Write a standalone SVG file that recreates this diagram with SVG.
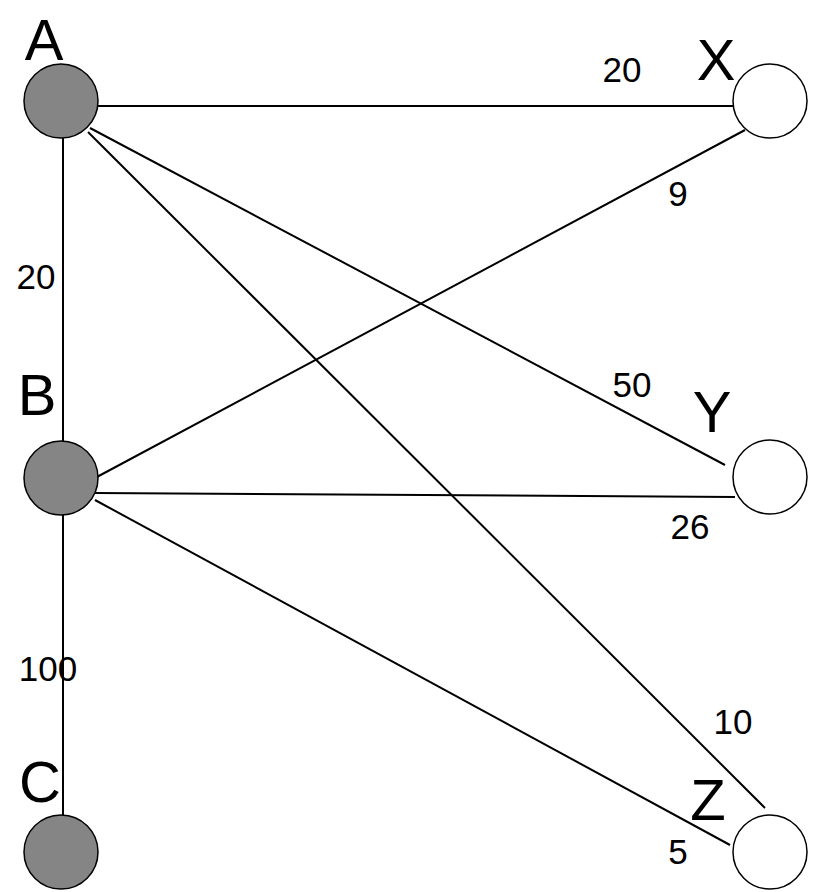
<svg xmlns="http://www.w3.org/2000/svg" width="834" height="892" viewBox="0 0 834 892">
<style>
.e{stroke:#000;stroke-width:2;fill:none}
.f{fill:#858585;stroke:#000;stroke-width:1.5}
.o{fill:#fff;stroke:#000;stroke-width:1.5}
.L{font-family:"Liberation Sans",Arial,sans-serif;font-size:58px;fill:#000;text-anchor:middle}
.n{font-family:"Liberation Sans",Arial,sans-serif;font-size:35px;fill:#000;text-anchor:middle}
</style>
<rect width="834" height="892" fill="#fff"/>
<g id="connectors">
<line class="e" x1="95" y1="106" x2="733" y2="106"/>
<line class="e" x1="63" y1="138" x2="63" y2="441"/>
<line class="e" x1="63" y1="515" x2="63" y2="818"/>
<line class="e" x1="90" y1="128" x2="725" y2="465"/>
<line class="e" x1="88" y1="132" x2="765" y2="808"/>
<line class="e" x1="95" y1="478" x2="745" y2="130"/>
<line class="e" x1="95" y1="493" x2="735" y2="497"/>
<line class="e" x1="95" y1="500" x2="730" y2="845"/>
</g>
<g id="A"><circle class="f" cx="61" cy="101" r="37"/><text class="L" x="44" y="60">A</text></g>
<g id="B"><circle class="f" cx="61" cy="478" r="37"/><text class="L" x="37" y="415">B</text></g>
<g id="C"><circle class="f" cx="61" cy="852" r="37"/><text class="L" x="40" y="802">C</text></g>
<g id="X"><circle class="o" cx="770" cy="101" r="37"/><text class="L" x="716" y="80">X</text></g>
<g id="Y"><circle class="o" cx="770" cy="477" r="37"/><text class="L" x="712" y="432">Y</text></g>
<g id="Z"><circle class="o" cx="770" cy="852" r="37"/><text class="L" x="708" y="820">Z</text></g>
<g id="labels">
<text class="n" x="622" y="82">20</text>
<text class="n" x="678" y="206">9</text>
<text class="n" x="36" y="289">20</text>
<text class="n" x="632" y="397">50</text>
<text class="n" x="690" y="539">26</text>
<text class="n" x="48" y="681">100</text>
<text class="n" x="733" y="734">10</text>
<text class="n" x="678" y="864">5</text>
</g>
</svg>
